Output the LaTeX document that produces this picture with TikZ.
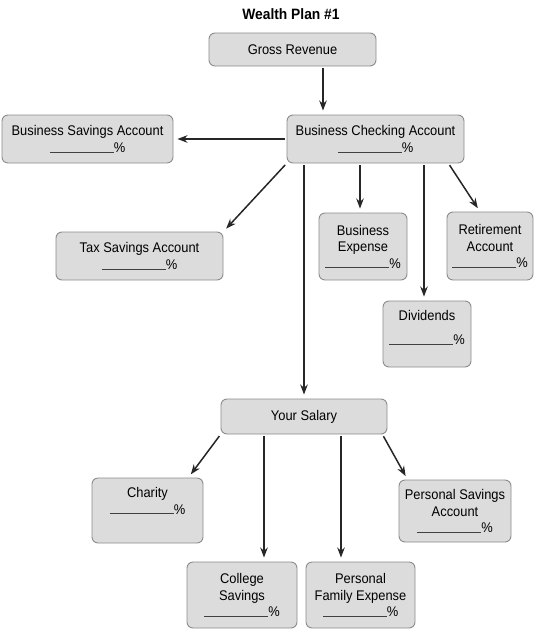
\documentclass[tikz,border=0pt]{standalone}
\usepackage{fontspec}
\setmainfont{Liberation Sans}[FakeStretch=0.92]
\usetikzlibrary{arrows.meta}

\definecolor{boxfill}{HTML}{DCDCDC}
\definecolor{boxline}{HTML}{8C8C8C}
\newcommand{\blank}{\textcolor{black!75}{\rule{64pt}{0.6pt}}\%}

\begin{document}
\begin{tikzpicture}[x=1pt, y=-1pt,
  plan/.style={draw=boxline, fill=boxfill, rounded corners=6pt, line width=0.9pt,
    inner sep=0pt, align=center, font=\fontsize{14}{16.5}\selectfont},
  arr/.style={-{Stealth[length=10pt,width=7.5pt]}, line width=1.5pt, black!85,
    shorten <=2pt, shorten >=4pt}]
  \useasboundingbox (0,0) rectangle (535,630);

  % title
  \node[font=\bfseries\fontsize{15}{18}\selectfont] (title) at (291,14) {Wealth Plan \#1};

  % top level
  \node[plan, minimum width=167, minimum height=33] (gross) at (292.5,49.5) {Gross Revenue};
  \node[plan, minimum width=177, minimum height=48] (bca) at (375.5,139) {Business Checking Account\\\blank};
  \node[plan, minimum width=171, minimum height=48] (bsa) at (87.5,139) {Business Savings Account\\\blank};

  % business accounts
  \node[plan, minimum width=167, minimum height=48] (tax) at (139.5,256) {Tax Savings Account\\\blank};
  \node[plan, minimum width=88, minimum height=67] (bexp) at (363,246.5) {Business\\Expense\\\blank};
  \node[plan, minimum width=86, minimum height=68] (ret) at (490,246) {Retirement\\Account\\\blank};
  \node[plan, minimum width=88, minimum height=66] (div) at (427,334) {Dividends\\[8pt]\blank\\[-3pt]\mbox{}};

  % salary and its parts
  \node[plan, minimum width=166, minimum height=35] (salary) at (304,416.5) {Your Salary};
  \node[plan, minimum width=111, minimum height=65] (charity) at (147.5,510.5) {Charity\\\blank\\[3pt]\mbox{}};
  \node[plan, minimum width=112, minimum height=62] (psa) at (455,511) {Personal Savings\\Account\\\blank};
  \node[plan, minimum width=110, minimum height=66] (college) at (242,595) {College\\Savings\\\blank};
  \node[plan, minimum width=109, minimum height=66] (pfe) at (360.5,595) {Personal\\Family Expense\\\blank};

  % connectors
  \draw[arr] ([xshift=30.5pt]gross.south) -- ([xshift=30.5pt]gross.south |- bca.north);
  \draw[arr] (bca.west) -- (bsa.east);
  \draw[arr] (bca.south west) -- (tax.north east);
  \draw[arr] (salary.north |- bca.south) -- (salary.north);
  \draw[arr] ([xshift=-3pt]bexp.north |- bca.south) -- ([xshift=-3pt]bexp.north);
  \draw[arr] ([xshift=-3pt]div.north |- bca.south) -- ([xshift=-3pt]div.north);
  \draw[arr] ([xshift=-16pt]bca.south east) -- ([xshift=-10pt]ret.north);

  \draw[arr] (salary.south west) -- ([xshift=-15pt]charity.north east);
  \draw[arr] ([xshift=-40pt]salary.south) -- ([xshift=-40pt]salary.south |- college.north);
  \draw[arr] ([xshift=37pt]salary.south) -- ([xshift=37pt]salary.south |- pfe.north);
  \draw[arr] ([xshift=-5pt]salary.south east) -- ([xshift=9pt]psa.north west);
\end{tikzpicture}
\end{document}
